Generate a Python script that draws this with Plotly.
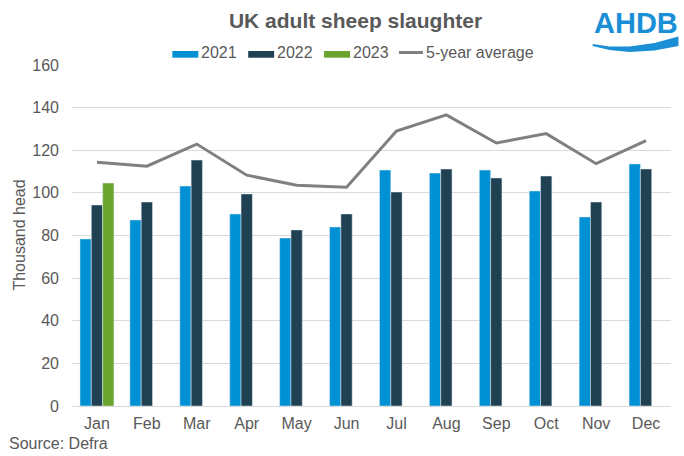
import plotly.graph_objects as go

months = ["Jan", "Feb", "Mar", "Apr", "May", "Jun", "Jul", "Aug", "Sep", "Oct", "Nov", "Dec"]
y2021 = [78.4, 87.3, 103.2, 90.1, 78.8, 84.0, 110.7, 109.3, 110.7, 100.9, 88.7, 113.6]
y2022 = [94.3, 95.7, 115.4, 99.5, 82.6, 90.1, 100.4, 111.2, 107.0, 107.9, 95.7, 111.2]
y2023 = [104.6, None, None, None, None, None, None, None, None, None, None, None]
avg5 = [114.4, 112.5, 122.9, 108.3, 103.6, 102.6, 129.0, 136.6, 123.4, 127.8, 113.7, 124.5]

W, H = 684, 456
L, R, T, B = 71.5, 12.5, 65, 50
pw, ph = W - L - R, H - T - B

def px(x):
    return (x - L) / pw

def py(y):
    return (H - B - y) / ph

FONT = "Liberation Sans, Arial, sans-serif"
GREY = "#595959"
C21, C22, C23, CAVG = "#0090D4", "#1F4152", "#6AA42F", "#808080"

fig = go.Figure()
fig.add_bar(x=months, y=y2021, name="2021", marker_color=C21)
fig.add_bar(x=months, y=y2022, name="2022", marker_color=C22)
fig.add_bar(x=months, y=y2023, name="2023", marker_color=C23)
fig.add_scatter(x=months, y=avg5, name="5-year average", mode="lines",
                line=dict(color=CAVG, width=3))

shapes = []
# AHDB logo swoosh
pts = [(593, 44), (610, 46.5), (630, 46.5), (655, 43), (679, 36.5),
       (679, 46), (655, 50.5), (630, 52), (610, 50), (593, 46)]
path = "M " + " L ".join(f"{px(a):.5f},{py(b):.5f}" for a, b in pts) + " Z"
shapes.append(dict(type="path", xref="paper", yref="paper", path=path,
                   fillcolor="#1A8FD6", line=dict(width=0), layer="above"))

# custom legend
annotations = []
leg = [("2021", C21, 172, 199, "rect"), ("2022", C22, 248, 275, "rect"),
       ("2023", C23, 324, 351, "rect"), ("5-year average", CAVG, 399, 424, "line")]
for name, col, x0, tx, kind in leg:
    if kind == "rect":
        shapes.append(dict(type="rect", xref="paper", yref="paper",
                           x0=px(x0), x1=px(x0 + 26), y0=py(57.7), y1=py(51),
                           fillcolor=col, line=dict(width=0)))
    else:
        shapes.append(dict(type="line", xref="paper", yref="paper",
                           x0=px(x0), x1=px(x0 + 24), y0=py(52.5), y1=py(52.5),
                           line=dict(color=col, width=3)))
    annotations.append(dict(text=name, xref="paper", yref="paper", x=px(tx), y=py(52.5),
                            xanchor="left", yanchor="middle", showarrow=False,
                            font=dict(size=16, color=GREY)))

annotations += [
    dict(text="Thousand head", textangle=-90, xref="paper", yref="paper",
         x=px(18), y=py(235), xanchor="center", yanchor="middle", showarrow=False,
         font=dict(size=16, color=GREY)),
    dict(text="Source: Defra", xref="paper", yref="paper", x=px(6), y=py(444),
         xanchor="left", yanchor="middle", showarrow=False,
         font=dict(size=16, color=GREY)),
    dict(text="<b>AHDB</b>", xref="paper", yref="paper", x=px(636), y=py(23),
         xanchor="center", yanchor="middle", showarrow=False,
         font=dict(size=29, color="#1A8FD6")),
]

fig.update_layout(
    width=W, height=H,
    margin=dict(l=L, r=R, t=T, b=B),
    plot_bgcolor="white", paper_bgcolor="white",
    barmode="group", bargap=0.32, bargroupgap=0,
    showlegend=False,
    font=dict(family=FONT, size=16, color=GREY),
    title=dict(text="<b>UK adult sheep slaughter</b>", xref="paper", x=px(355.5),
               xanchor="center", yref="container", y=1 - 20.5 / H, yanchor="middle",
               font=dict(size=21, color=GREY)),
    xaxis=dict(showgrid=False, showline=True, linecolor="#D9D9D9", linewidth=1,
               ticks="", tickfont=dict(size=16, color=GREY), ticklabelstandoff=3),
    yaxis=dict(range=[0, 160], dtick=20, showgrid=True, gridcolor="#D9D9D9", gridwidth=1,
               zeroline=False, ticks="", tickfont=dict(size=16, color=GREY),
               ticklabelstandoff=12),
    shapes=shapes,
    annotations=annotations,
)

fig.write_html("out.html")
